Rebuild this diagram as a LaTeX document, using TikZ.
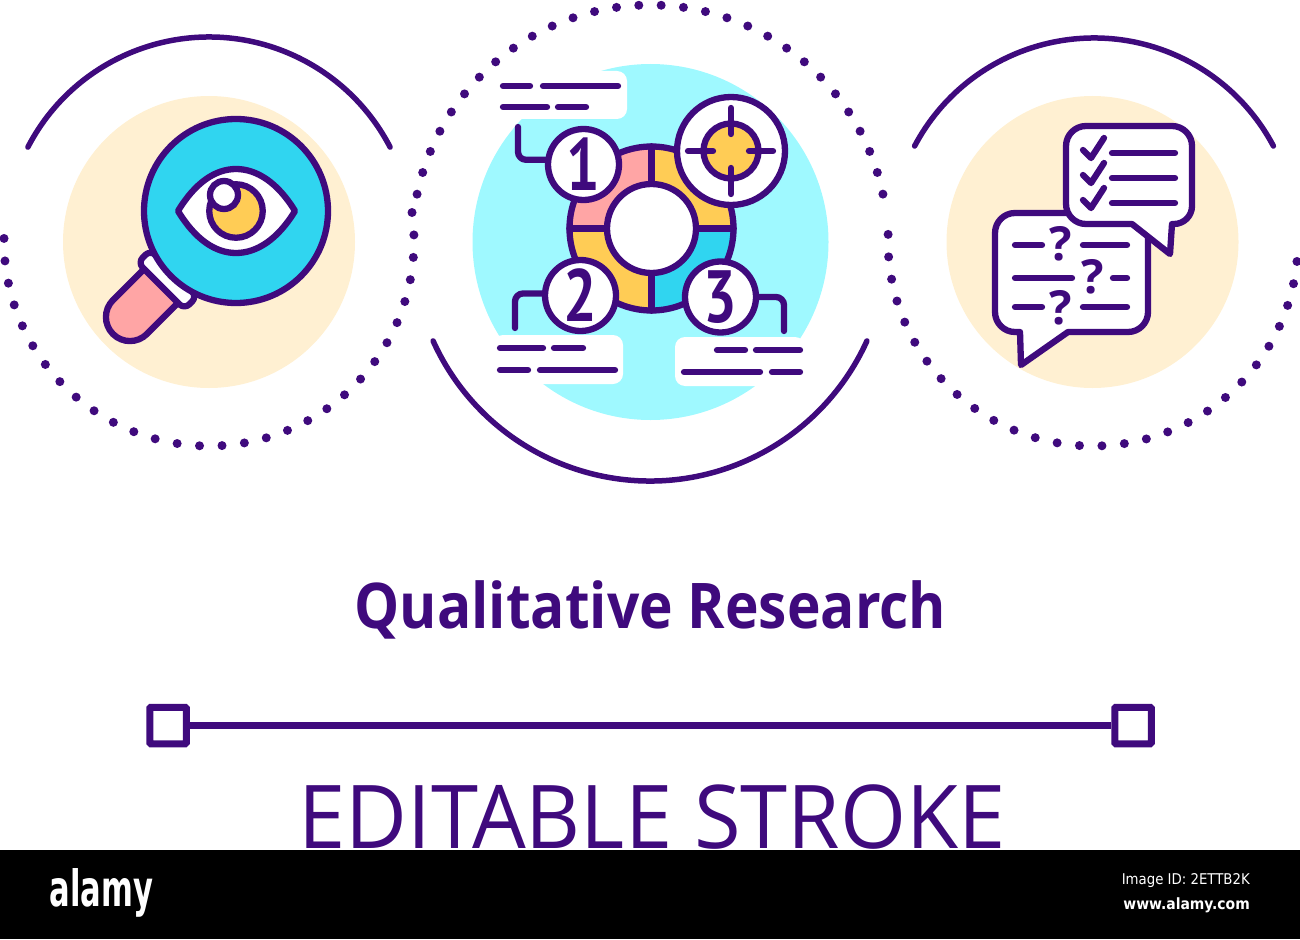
\documentclass[tikz,border=0pt]{standalone}
\usepackage{fontspec}
\usepackage{graphicx}
\setmainfont{Open Sans}
\newfontfamily\digitfont{PT Sans}
\newfontfamily\footfont{DejaVu Sans Condensed}
\definecolor{ink}{HTML}{3F0A7D}
\definecolor{cream}{HTML}{FFF0D2}
\definecolor{aqua}{HTML}{9FF9FF}
\definecolor{sky}{HTML}{30D5F0}
\definecolor{amber}{HTML}{FFCC55}
\definecolor{rosy}{HTML}{FFA5A5}

\begin{document}
\begin{tikzpicture}[x=1pt,y=-1pt,
    inkline/.style={draw=ink,line width=6.3pt,line cap=round,line join=round},
    backdrop/.style={circle,inner sep=0pt},
    disc/.style={circle,draw=ink,fill=white,line width=6.3pt,inner sep=0pt},
    numdisc/.style={disc,minimum size=71pt,text=ink,font=\digitfont\bfseries\fontsize{74}{74}\selectfont},
    qmark/.style={text=ink,inner sep=0pt,font=\bfseries\fontsize{47}{47}\selectfont},
    knob/.style={draw=ink,line width=7pt,inner sep=0pt,minimum size=36.5pt,rounded corners=1pt},
    tagbox/.style={fill=white,rounded corners=10pt},
    bubble/.style={inkline,fill=white}]
    \useasboundingbox (0,0) rectangle (1300,939);
    % round backdrops
    \node [backdrop,fill=cream,minimum size=292pt] (leftback) at (209,242) {};
    \node [backdrop,fill=cream,minimum size=292pt] (rightback) at (1092.5,242) {};
    \node [backdrop,fill=aqua,minimum size=356pt] (midback) at (650.5,242) {};
    % outer arcs and dots
    \coordinate (leftc) at (209,241);
    \coordinate (midc) at (650,243);
    \coordinate (rightc) at (1094,241);
    \draw [inkline,line width=5.5pt] (leftc) ++(-152.6:204) arc (-152.6:-27.4:204);
    \draw [inkline,line width=5.5pt] (rightc) ++(-152.1:203) arc (-152.1:-27.9:203);
    \draw [inkline,line width=5.5pt] (midc) ++(155.7:238) arc (155.7:24.3:238);
    \foreach \k in {-14,...,16}
      \fill [ink] (leftc) ++({-(267.35+6.29*\k)}:205) circle (4.5);
    \foreach \k in {0,...,29}
      \fill [ink] (midc) ++({-(11.85+5.39*\k)}:238) circle (4.5);
    \foreach \k in {-15,...,13}
      \fill [ink] (1093,241) ++({-(272.5+6.29*\k)}:205) circle (4.5);
    % magnifier
    \begin{scope}[shift={(236,211)},rotate=45]
      \draw [inkline,fill=rosy] (-105,-24) -- (-150,-24) arc (-90:-270:24) -- (-105,24) -- cycle;
      \draw [inkline,fill=white,rounded corners=7pt] (-106,-33) rectangle (-88,33);
    \end{scope}
    \node [disc,fill=sky,minimum size=184pt] (lens) at (236,211) {};
    \draw [inkline,fill=white] (178,211) .. controls (195,183) and (215,169) .. (236,169)
      .. controls (257,169) and (278,183) .. (295,211)
      .. controls (278,239) and (257,253) .. (236,253)
      .. controls (215,253) and (195,239) .. (178,211) -- cycle;
    \node [disc,fill=amber,minimum size=53.5pt] (iris) at (236,211) {};
    \node [disc,minimum size=28pt] (glint) at (224,195) {};
    % text stubs behind the ring
    \node [tagbox,minimum width=130pt,minimum height=48pt] (tagone) at (562,95) {};
    \node [tagbox,minimum width=130pt,minimum height=49pt] (tagtwo) at (558,359.5) {};
    \node [tagbox,minimum width=130pt,minimum height=49pt] (tagthree) at (740,361.5) {};
    \foreach \a/\b/\c in {503/530/86,543/618/86,503/547/107,558/586/107,
        500/543/348,554/583/348,500/528/370,540/615/370,
        717/745/350,756/800/350,684/760/372,772/800/372}
      \draw [inkline] (\a,\c) -- (\b,\c);
    % ring
    \node [circle,inner sep=0pt,minimum size=164pt] (ring) at (651.5,228.5) {};
    \fill [rosy] (ring.center) -- ++(-180:82) arc (-180:-90:82) -- cycle;
    \fill [amber] (ring.center) -- ++(-90:82) arc (-90:0:82) -- cycle;
    \fill [sky] (ring.center) -- ++(0:82) arc (0:90:82) -- cycle;
    \fill [amber] (ring.center) -- ++(90:82) arc (90:180:82) -- cycle;
    \draw [inkline] (ring.center) circle (82);
    \draw [inkline] (ring.north) -- (ring.south);
    \draw [inkline] (ring.west) -- (ring.east);
    \node [disc,minimum size=89pt] (hub) at (ring.center) {};
    % numbered discs
    \coordinate (leadone) at (518,127);
    \coordinate (leadtwo) at (515,328);
    \coordinate (leadthree) at (784,331);
    \node [numdisc] (one) at (583.5,164.5) {\scalebox{.8}[1]{1}};
    \node [numdisc] (two) at (580.5,295.5) {\scalebox{.8}[1]{2}};
    \node [numdisc] (three) at (720.5,297) {\scalebox{.8}[1]{3}};
    \draw [inkline,rounded corners=8pt] (leadone) |- (one.173);
    \draw [inkline,rounded corners=8pt] (leadtwo) |- (two.177);
    \draw [inkline,rounded corners=8pt] (leadthree) |- (three.east);
    % target
    \node [disc,minimum size=108pt] (target) at (731,151) {};
    \node [disc,fill=amber,minimum size=55pt] (bull) at (731,151) {};
    \draw [inkline] (731,108) -- (731,134);
    \draw [inkline] (731,168) -- (731,194);
    \draw [inkline] (688,151) -- (713,151);
    \draw [inkline] (749,151) -- (773,151);
    % speech bubbles
    \draw [bubble] (1068,332) -- (1128,332) arc (90:0:20) -- (1148,233) arc (0:-90:20)
      -- (1015,213) arc (-90:-180:20) -- (995,312) arc (180:90:20)
      -- (1020,332) -- (1021,365) -- cycle;
    \foreach \c in {245,307} {
      \draw [inkline] (1015,\c) -- (1042,\c);
      \draw [inkline] (1083,\c) -- (1127,\c);
    }
    \draw [inkline] (1015,278) -- (1072,278);
    \draw [inkline] (1113,278) -- (1127,278);
    \node [qmark] (askone) at (1061,243.5) {?};
    \node [qmark] (asktwo) at (1093,277) {?};
    \node [qmark] (askthree) at (1061,308) {?};
    \draw [bubble] (1132,224) -- (1086,224) arc (90:180:20) -- (1066,146) arc (180:270:20)
      -- (1172,126) arc (-90:0:20) -- (1192,206) arc (0:90:18)
      -- (1172,224) -- (1170,254) -- cycle;
    \foreach \c in {153,178,203} {
      \draw [inkline] (1083,\c-3) -- (1091,\c+5) -- (1104,\c-15);
      \draw [inkline] (1112,\c) -- (1175,\c);
    }
    % caption and slider
    \node [anchor=base,text=ink,inner sep=0pt,font=\bfseries\fontsize{63}{63}\selectfont] (title) at (650.5,628) {\scalebox{.902}[1]{Qualitative Research}};
    \node [knob] (knobleft) at (168,725.5) {};
    \node [knob] (knobright) at (1133,725.5) {};
    \draw [ink,line width=7pt] (knobleft) -- (knobright);
    \node [anchor=base,text=ink,inner sep=0pt,font=\fontsize{88}{88}\selectfont] (editable) at (652,848) {\scalebox{.965}[1]{EDITABLE STROKE}};
    % footer band
    \fill [black] (0,850) rectangle (1300,939);
    \node [text=white,font=\footfont\bfseries\fontsize{50}{50}\selectfont] (brand) at (101.5,893) {\scalebox{.68}[1]{alamy}};
    \node [text=white,anchor=east,inner sep=0pt,font=\footfont\fontsize{14.8}{15}\selectfont] (imageid) at (1250,881) {Image ID: 2ETTB2K};
    \node [text=white,anchor=east,inner sep=0pt,font=\footfont\bfseries\fontsize{15.5}{16}\selectfont] (site) at (1250,905) {www.alamy.com};
\end{tikzpicture}
\end{document}
